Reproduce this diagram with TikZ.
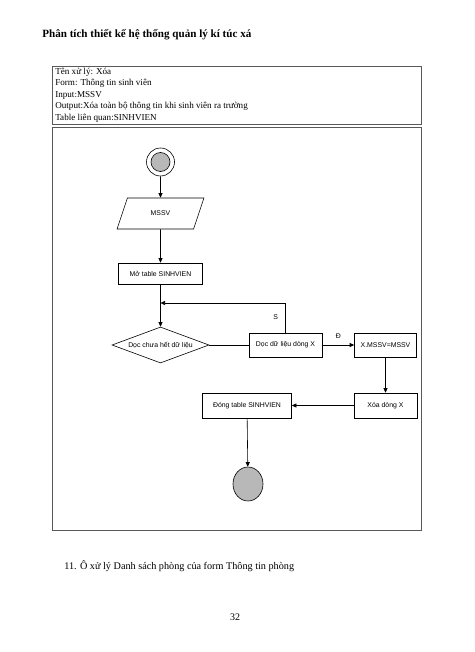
\documentclass[tikz,border=0pt]{standalone}
\usepackage{fontspec}
\setmainfont{Liberation Serif}
\setsansfont{Liberation Sans}
\usepackage{tikz}
\usetikzlibrary{arrows.meta,positioning,shapes.geometric}

\tikzset{
  flowbox/.style={draw, rectangle, inner sep=1pt, font=\sffamily\fontsize{6.9}{7.5}\selectfont},
  flowdata/.style={draw, trapezium, trapezium left angle=64, trapezium right angle=116,
    trapezium stretches=true, inner sep=1pt, font=\sffamily\fontsize{6.9}{7.5}\selectfont},
  flowtest/.style={draw, diamond, aspect=2.7, inner sep=0pt, font=\sffamily\fontsize{6.9}{7.5}\selectfont},
  flowlabel/.style={font=\sffamily\fontsize{6.9}{7.5}\selectfont},
  frame/.style={draw=black!65, line width=0.8pt},
}

\begin{document}
\begin{tikzpicture}[x=1pt, y=-1pt, >={Triangle[length=4.5pt,width=4pt]}, line width=0.6pt]
  \useasboundingbox (0,0) rectangle (474,652);
  % Heading
  \node[anchor=base west, inner sep=0pt, font=\bfseries\fontsize{11.1}{13}\selectfont] (title) at (42,38)
    {Phân tích thiết kế hệ thống quản lý kí túc xá};
  % Frames
  \draw[frame] (52,66) rectangle (421,124);
  \draw[frame] (52,127) rectangle (421,530);
  \node[anchor=north west, align=left, inner sep=0pt, font=\fontsize{9.1}{11.5}\selectfont] (info) at (55,67.5)
    {Tên xử lý: Xóa\\
     Form: Thông tin sinh viên\\
     Input:MSSV\\
     Output:Xóa toàn bộ thông tin khi sinh viên ra trường\\
     Table liên quan:SINHVIEN};
  % Start
  \node[draw, circle, minimum size=28pt, inner sep=0pt] (start) at (160.5,162) {};
  \node[draw, circle, fill=black!28, minimum size=19pt, inner sep=0pt] (startin) at (start) {};
  % Steps
  \node[flowdata, minimum width=87pt, minimum height=31pt] (mssv) at (160.5,213.5) {MSSV};
  \node[flowbox, minimum width=84pt, minimum height=21pt] (open) at (160.5,273.5) {Mở table SINHVIEN};
  \node[flowtest, minimum width=97pt, minimum height=36pt] (test) at (160.5,345) {Dọc chưa hết dữ liệu};
  \node[flowbox, minimum width=73pt, minimum height=24pt] (read) at (285.5,345) {Dọc dữ liệu dòng X};
  \node[flowbox, minimum width=62pt, minimum height=24pt] (match) at (385.5,345) {X.MSSV=MSSV};
  \node[flowbox, minimum width=63pt, minimum height=25pt] (delete) at (385.5,405.5) {Xóa dòng X};
  \node[flowbox, minimum width=89pt, minimum height=25pt] (close) at (247,405.5) {Đóng table SINHVIEN};
  % End
  \node[draw, ellipse, fill=black!28, minimum width=30pt, minimum height=34pt, inner sep=0pt] (stop) at (248,484) {};
  % Flow
  \coordinate (join) at (160.5,303);
  \draw[->] (start) -- (mssv);
  \draw[->] (mssv) -- (open);
  \draw[->] (open) -- (test);
  \draw (test) -- (read);
  \draw[->] (read.north) |- (join) node[flowlabel, pos=0.27, left=4pt] {S};
  \draw[->] (read) -- (match) node[flowlabel, midway, above=3pt] {Đ};
  \draw[->] (match.south -| delete) -- (delete);
  \draw[->] (delete) -- (close);
  \draw[->] (close) -- (stop);
  % Footer
  \node[anchor=base west, inner sep=0pt, font=\fontsize{10.2}{12}\selectfont] (next) at (64,569)
    {11. Ô xử lý Danh sách phòng của form Thông tin phòng};
  \node[anchor=base, inner sep=0pt, font=\fontsize{10}{12}\selectfont] (page) at (235,620) {32};
\end{tikzpicture}
\end{document}
